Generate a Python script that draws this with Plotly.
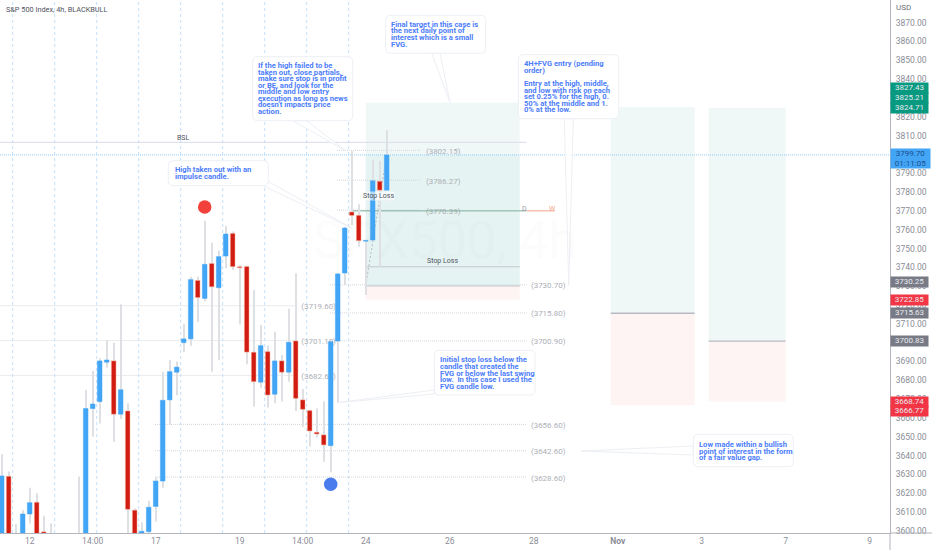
import plotly.graph_objects as go

# 4h candles, left to right
opens = [3590, 3629, 3592, 3595, 3609, 3615.2, 3599.5, 3590, 3585, 3582, 3580, 3585, 3590, 3665, 3668.7, 3689.6,
         3690.3, 3662, 3663.7, 3611, 3598.8, 3599.6, 3613, 3626.5, 3669.6, 3684.3, 3700, 3702, 3733, 3723.5, 3742,
         3729.2, 3746, 3758, 3740.3, 3740.4, 3694.9, 3679, 3695.2, 3672.6, 3690.3, 3684.3, 3700.9, 3669.6, 3663.9,
         3652.4, 3651, 3645.3, 3700.9, 3737, 3769.4, 3767.6, 3753.9, 3754.5, 3785.7, 3781]
closes = [3629.2, 3590, 3586, 3609, 3615, 3597, 3597, 3585, 3582, 3580, 3585, 3590, 3665, 3667.4, 3690.3, 3690.8,
          3662, 3675, 3611.5, 3595, 3599.8, 3612.6, 3626.5, 3669.4, 3684.6, 3687, 3702, 3733.5, 3724, 3741.6, 3729.7,
          3745.7, 3757.7, 3740.4, 3739.8, 3695, 3679.3, 3698.4, 3672.2, 3690.3, 3684.3, 3700.2, 3670.4, 3664.6, 3653.1,
          3651.5, 3645.7, 3700.5, 3736.5, 3760.9, 3767.6, 3754.2, 3754.3, 3786, 3781, 3799.7]
highs = [3640.7, 3631.5, 3603.7, 3611, 3623, 3620, 3608, 3604, 3596, 3594, 3596, 3628.9, 3675, 3685, 3691.7, 3701.4,
         3700, 3720.4, 3667.8, 3612, 3604.6, 3616, 3628.5, 3684.6, 3690.8, 3690, 3710, 3735, 3735, 3764.8, 3753,
         3749, 3762, 3759, 3741.2, 3741, 3728, 3709.4, 3698.4, 3705.8, 3693.5, 3718, 3736.8, 3675.4, 3664.5,
         3665, 3668.7, 3701, 3737, 3761.5, 3801.8, 3773.5, 3754.5, 3797, 3796.5, 3812.8]
lows = [3585, 3585, 3580, 3590, 3604, 3590, 3590, 3580, 3578, 3576, 3578, 3580, 3585, 3650, 3657, 3686.7,
        3647.4, 3659.5, 3590, 3590, 3595, 3597, 3605, 3623, 3656.3, 3672, 3694.9, 3698.4, 3711, 3722, 3684.6,
        3690.8, 3739.5, 3738.6, 3709.7, 3688.5, 3666, 3676, 3665.5, 3667.8, 3668.7, 3679.3, 3663.7, 3655.4, 3644.8,
        3649.6, 3636.8, 3631.2, 3668, 3730.7, 3762.5, 3751, 3725.3, 3754, 3740.3, 3781]
bar_idx = list(range(len(opens)))

x_tick_vals = [4, 13, 22, 34, 43, 52, 64, 76, 88, 100, 112, 124]
x_tick_text = ["12", "14:00", "17", "19", "14:00", "24", "26", "28", "<b>Nov</b>", "3", "7", "9"]
y_tick_vals = list(range(3600, 3880, 10))

session_lines = [1.57, 7.57, 13.57, 19.57, 25.57, 31.57, 37.57, 43.57, 49.57]

# dotted levels: (prices, start bar, end bar, bar of the label)
fib_groups = [
    ([3802.15, 3786.27, 3770.39], 47.9, 59.8, 60.6),
    ([3730.70, 3715.80, 3700.90], 46.9, 75, 75.6),
    ([3656.60, 3642.60, 3628.60], 21.9, 75, 75.6),
    ([3719.60, 3701.10, 3682.60], -0.3, 42, 42.8),
]

last_price = 3799.70
bsl_price = 3806.4
daily_level = 3770.0
stop_levels = [3775.7, 3740.3]

# risk/reward boxes: start, end, target, entry, stop
pos_start = [52, 87, 101]
pos_end = [74, 99, 112]
pos_target = [3827.43, 3825.21, 3824.71]
pos_entry = [3730.25, 3715.63, 3700.83]
pos_stop = [3722.85, 3666.77, 3668.74]

# right scale tags: price, colour, shift in px
tag_prices = [3827.43, 3825.21, 3824.71, 3730.25, 3722.85, 3715.63, 3700.83, 3668.74, 3666.77]
tag_colors = ["#089981", "#089981", "#089981", "#787b86", "#f23645", "#787b86", "#787b86", "#f23645", "#f23645"]
tag_shift = [14.7, 8.5, 0, 3.5, -0.5, 0.5, 0, 0, -6]

callouts = [
    {"box": (252.7, 56.7, 352.7, 120.7), "tail": [(293, 120.7), (346, 151), (306.7, 120.7)], "tx": 258,
     "ty": [65.7, 72.3, 78.7, 85.3, 91.7, 98.3, 104.7, 111.3],
     "lines": ["If the high failed to be", "taken out, close partials,", "make sure stop is in profit",
               "or BE, and look for the", "middle and low entry", "execution as long as news",
               "doesn't impacts price", "action."]},
    {"box": (168.3, 160.7, 268.3, 185.7), "tail": [(263, 185.7), (351.7, 228), (268.3, 181.5)], "tx": 174.7,
     "ty": [169.7, 176.2], "lines": ["High taken out with an", "impulse candle."]},
    {"box": (385.7, 15.3, 485.7, 53.3), "tail": [(431.7, 53.3), (450, 102.3), (440, 53.3)], "tx": 391.3,
     "ty": [24.3, 31, 37.7, 44],
     "lines": ["Final target in this case is", "the next daily point of", "interest which is a small", "FVG."]},
    {"box": (518.3, 54.7, 618.7, 118.7), "tail": [(564.3, 118.7), (568.7, 285), (573.3, 118.7)], "tx": 524,
     "ty": [63.7, 70.3, 83.3, 90, 96.3, 103, 109.3],
     "lines": ["4H+FVG entry (pending", "order)", "Entry at the high, middle,", "and low with risk on each",
               "set 0.25% for the high, 0.", "50% at the middle and 1.", "0% at the low."]},
    {"box": (434.3, 350.3, 535, 395), "tail": [(434.3, 390), (337.3, 402.7), (434.3, 394)], "tx": 440,
     "ty": [359.7, 366.3, 373, 379.3, 386],
     "lines": ["Initial stop loss below the", "candle that created the", "FVG or below the last swing",
               "low.  In this case I used the", "FVG candle low."]},
    {"box": (693.3, 434.3, 793.3, 466.7), "tail": [(693.3, 446), (581, 451), (693.3, 455)], "tx": 699,
     "ty": [444.3, 451, 457.3],
     "lines": ["Low made within a bullish", "point of interest in the form", "of a fair value gap."]},
]

PLOT_W = 890
PLOT_H = 533
X_MIN = -0.243
X_MAX = 126.9
Y_MIN = 3598.9
Y_MAX = 3882.0
FONT = "Roboto"
AXIS_GREY = "#8a8d96"
LINE_GREY = "#b2b5be"
NOTE_BLUE = "#4d7dfb"
# scatter text sits a touch high against its level
LABEL_DROP = 0.8


def px(x):
    return x / PLOT_W


def py(y):
    return 1 - y / PLOT_H


def rounded_path(x0, y0, x1, y1, r=5):
    x0, x1 = px(x0), px(x1)
    y0, y1 = py(y0), py(y1)
    rx = r / PLOT_W
    ry = r / PLOT_H
    return (f"M {x0 + rx} {y0} L {x1 - rx} {y0} Q {x1} {y0} {x1} {y0 - ry} L {x1} {y1 + ry} "
            f"Q {x1} {y1} {x1 - rx} {y1} L {x0 + rx} {y1} Q {x0} {y1} {x0} {y1 + ry} L {x0} {y0 - ry} "
            f"Q {x0} {y0} {x0 + rx} {y0} Z")


fig = go.Figure()

# text under the candles goes on the base axes, candles on the overlay axes
for prices, start, end, label_x in fib_groups:
    xs, ys = [], []
    for p in prices:
        xs += [start, end, None]
        ys += [p, p, None]
    fig.add_trace(go.Scatter(x=xs, y=ys, mode="lines", line=dict(color="#d4d6dc", width=1, dash="1px,1px"),
                             hoverinfo="skip"))
    fig.add_trace(go.Scatter(x=[label_x] * 3, y=[p - LABEL_DROP for p in prices], mode="text",
                             text=[f"({p:.2f})" for p in prices],
                             textposition="middle right", textfont=dict(family=FONT, size=8, color="#adb0b7"),
                             hoverinfo="skip"))

fig.add_trace(go.Scatter(x=[X_MIN, 75], y=[bsl_price, bsl_price], mode="lines",
                         line=dict(color="#d9dde8", width=1), hoverinfo="skip"))
fig.add_trace(go.Scatter(x=[X_MIN, X_MAX], y=[last_price, last_price], mode="lines",
                         line=dict(color="#90caf9", width=1, dash="1px,1px"), hoverinfo="skip"))
fig.add_trace(go.Scatter(x=[50, 75], y=[daily_level, daily_level], mode="lines",
                         line=dict(color="#7fae98", width=1), hoverinfo="skip"))
fig.add_trace(go.Scatter(x=[75, 79], y=[daily_level, daily_level], mode="lines",
                         line=dict(color="#f5a58a", width=1), hoverinfo="skip"))
for level, start, end in zip(stop_levels, [52, 52], [56, 74]):
    fig.add_trace(go.Scatter(x=[start, end], y=[level, level], mode="lines",
                             line=dict(color="#c4c7ce" if level < 3750 else "#e6e8ec", width=1),
                             hoverinfo="skip"))
fig.add_trace(go.Scatter(x=[52, 55], y=[pos_entry[0], last_price], mode="lines",
                         line=dict(color="#b8bbc2", width=1, dash="2px,2px"), hoverinfo="skip"))

wick_h = [h - l for h, l in zip(highs, lows)]
body_h = [c - o for o, c in zip(opens, closes)]
body_colors = ["#42a5f5" if c >= o else "#d01c12" for o, c in zip(opens, closes)]
edge_colors = ["#42a5f5" if c >= o else "#f6a58f" for o, c in zip(opens, closes)]

fig.add_trace(go.Bar(x=bar_idx, y=wick_h, base=lows, width=0.15, marker=dict(color="#dfe0e3", line_width=0),
                     xaxis="x2", yaxis="y2", hoverinfo="skip"))
fig.add_trace(go.Bar(x=bar_idx, y=body_h, base=opens, width=0.66,
                     marker=dict(color=body_colors, line=dict(color=edge_colors, width=0.5)),
                     xaxis="x2", yaxis="y2"))
fig.add_trace(go.Scatter(x=[29, 47], y=[3772, 3624.8], mode="markers",
                         marker=dict(size=13.5, color=["#f2413a", "#4a7cee"]),
                         xaxis="x2", yaxis="y2", hoverinfo="skip"))

shapes = []
for s, e, t, en, st in zip(pos_start, pos_end, pos_target, pos_entry, pos_stop):
    shapes.append(dict(type="rect", layer="below", xref="x", yref="y", x0=s, x1=e, y0=en, y1=t,
                       fillcolor="#f0f8f7", line_width=0))
    shapes.append(dict(type="rect", layer="below", xref="x", yref="y", x0=s, x1=e, y0=en, y1=st,
                       fillcolor="#fdf4f3", line_width=0))
    shapes.append(dict(type="line", layer="below", xref="x", yref="y", x0=s, x1=e, y0=en, y1=en,
                       line=dict(color="#8f929b" if s == 52 else "#b7b9c3", width=1.3)))
shapes.append(dict(type="rect", layer="below", xref="x", yref="y", x0=pos_start[0], x1=pos_end[0],
                   y0=pos_entry[0], y1=last_price, fillcolor="#e5f3f2", line_width=0))
for v in session_lines:
    shapes.append(dict(type="line", layer="below", xref="x", yref="paper", x0=v, x1=v, y0=0, y1=1,
                       line=dict(color="#c4dffa", width=1, dash="3px,3px")))
# axis lines run on into the scale corner
shapes.append(dict(type="line", xref="paper", yref="paper", x0=1, x1=932 / PLOT_W, y0=0, y1=0,
                   line=dict(color=LINE_GREY, width=1)))
shapes.append(dict(type="line", xref="paper", yref="paper", x0=1, x1=1, y0=0, y1=-17 / PLOT_H,
                   line=dict(color=LINE_GREY, width=1)))

annotations = []
for c in callouts:
    (a, b, d) = c["tail"]
    shapes.append(dict(type="path", xref="paper", yref="paper",
                       path=f"M {px(a[0])} {py(a[1])} L {px(b[0])} {py(b[1])} L {px(d[0])} {py(d[1])} Z",
                       fillcolor="rgba(255,255,255,0.9)", line=dict(color="#eceff4", width=1)))
    shapes.append(dict(type="path", xref="paper", yref="paper", path=rounded_path(*c["box"]),
                       fillcolor="white", line=dict(color="#eceff4", width=1)))
    for text, y in zip(c["lines"], c["ty"]):
        annotations.append(dict(xref="paper", yref="paper", x=px(c["tx"]), y=py(y), text=f"<b>{text}</b>",
                                showarrow=False, xanchor="left", yanchor="middle", xshift=-1, borderpad=0,
                                font=dict(family=FONT, size=7.6, color=NOTE_BLUE)))


def note(x, y, text, size=7.5, color="#50535e", anchor="center", bg=None):
    annotations.append(dict(xref="paper", yref="paper", x=px(x), y=py(y), text=text, showarrow=False,
                            xanchor=anchor, yanchor="middle", borderpad=0, bgcolor=bg,
                            font=dict(family=FONT, size=size, color=color)))


note(5, 10, "S&P 500 Index, 4h, BLACKBULL", size=7.3, anchor="left")
note(183, 137.5, "BSL", size=7)
note(378.5, 195.5, "Stop Loss", size=7, bg="rgba(255,255,255,0.6)")
note(442, 261, "Stop Loss", size=7)
note(524, 208.5, "D", size=7, color="#9598a1")
note(552, 208.5, "W", size=7, color="#f5a58a")
note(895, 7, "USD", size=8, color="#6a6d78", anchor="left")
note(445, 240, "SPX500, 4h", size=52, color="rgba(120,123,134,0.025)")
note(445, 298, "S&P 500 Index", size=25, color="rgba(120,123,134,0.025)")

for price, color, shift in zip(tag_prices, tag_colors, tag_shift):
    annotations.append(dict(xref="paper", yref="y", x=1, y=price, yshift=shift, text=f"{price:.2f}",
                            showarrow=False, xanchor="left", yanchor="middle", align="center", width=37, height=9.6,
                            bgcolor=color, borderpad=0, font=dict(family=FONT, size=8, color="#e8eaee")))
annotations.append(dict(xref="paper", yref="y", x=1, y=last_price, yshift=-4, text=f"{last_price:.2f}<br>01:11:05",
                        showarrow=False, xanchor="left", yanchor="middle", align="center", width=39, height=18.5,
                        bgcolor="#42a5f5", borderpad=0, font=dict(family=FONT, size=8, color="#1f4f8f")))

fig.update_layout(
    width=932,
    height=550,
    autosize=False,
    margin=dict(l=0, r=42, t=0, b=17),
    paper_bgcolor="white",
    plot_bgcolor="white",
    showlegend=False,
    barmode="overlay",
    shapes=shapes,
    annotations=annotations,
    xaxis=dict(range=[X_MIN, X_MAX], showgrid=False, zeroline=False, showline=True, linecolor=LINE_GREY,
               tickmode="array", tickvals=x_tick_vals, ticktext=x_tick_text, ticks="", ticklen=0,
               tickfont=dict(family=FONT, size=8.5, color=AXIS_GREY)),
    yaxis=dict(range=[Y_MIN, Y_MAX], side="right", showgrid=False, zeroline=False, showline=True, linecolor=LINE_GREY,
               tickmode="array", tickvals=y_tick_vals, tickformat=".2f", ticks="outside", ticklen=3,
               tickcolor="rgba(0,0,0,0)", tickfont=dict(family=FONT, size=8.5, color=AXIS_GREY)),
    xaxis2=dict(overlaying="x", matches="x", visible=False),
    yaxis2=dict(overlaying="y", matches="y", visible=False),
)

# the page's default body margin would push the chart off the window
fig.write_html("out.html", config=dict(displayModeBar=False),
               post_script="document.body.style.margin='0';document.body.style.overflow='hidden';")
